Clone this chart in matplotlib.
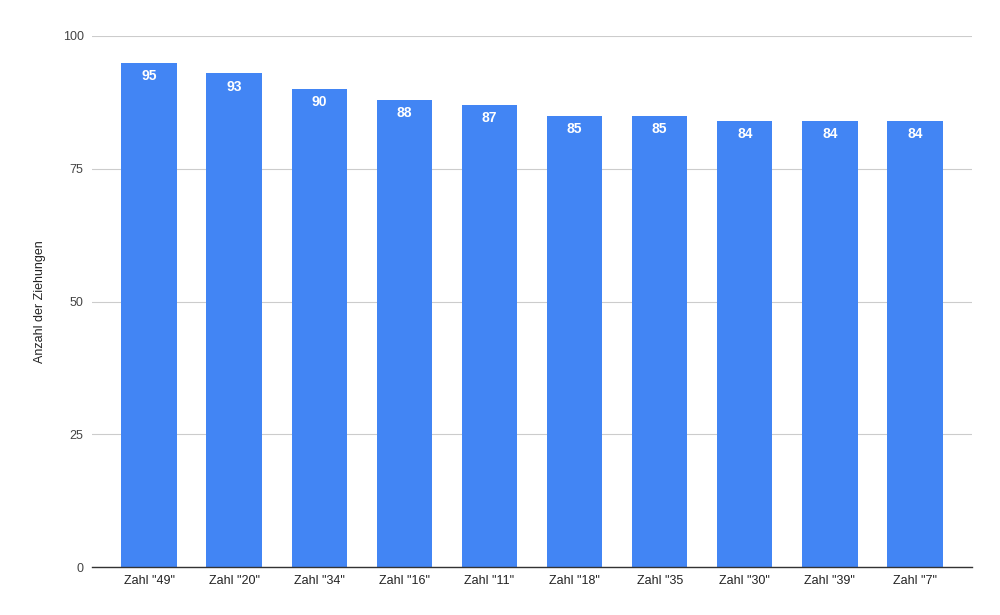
import matplotlib
matplotlib.use("Agg")
import matplotlib.pyplot as plt

categories = ['Zahl "49"', 'Zahl "20"', 'Zahl "34"', 'Zahl "16"', 'Zahl "11"',
              'Zahl "18"', 'Zahl "35', 'Zahl "30"', 'Zahl "39"', 'Zahl "7"']
values = [95, 93, 90, 88, 87, 85, 85, 84, 84, 84]
yticks = [0, 25, 50, 75, 100]

plt.rcParams['font.family'] = ['Liberation Sans', 'DejaVu Sans']

fig = plt.figure(figsize=(10, 6.15), dpi=100)
ax = fig.add_axes([0.092, 0.078, 0.88, 0.8635])

x = list(range(len(categories)))
bars = ax.bar(x, values, width=0.65, color='#4285F4', zorder=3)
for b, v in zip(bars, values):
    ax.text(b.get_x() + b.get_width() / 2, v - 1.2, str(v), ha='center', va='top',
            color='white', fontsize=10, fontweight='bold', zorder=4)

ax.set_xlim(-0.67, len(categories) - 1 + 0.67)
ax.set_ylim(0, 100)
ax.set_yticks(yticks)
ax.set_yticklabels([str(t) for t in yticks], fontsize=9, color='#444444')
ax.set_xticks(x)
ax.set_xticklabels(categories, fontsize=9, color='#222222')
ax.tick_params(axis='both', length=0)
ax.tick_params(axis='y', pad=6)
ax.tick_params(axis='x', pad=6)
ax.grid(axis='y', color='#cccccc', linewidth=0.8, zorder=0)
for s in ['top', 'right', 'left']:
    ax.spines[s].set_visible(False)
ax.spines['bottom'].set_color('#333333')
ax.spines['bottom'].set_linewidth(1)
ax.spines['bottom'].set_zorder(5)
ax.set_ylabel('Anzahl der Ziehungen', fontsize=9, color='#222222', labelpad=12)

fig.savefig('out.png', dpi=100)
